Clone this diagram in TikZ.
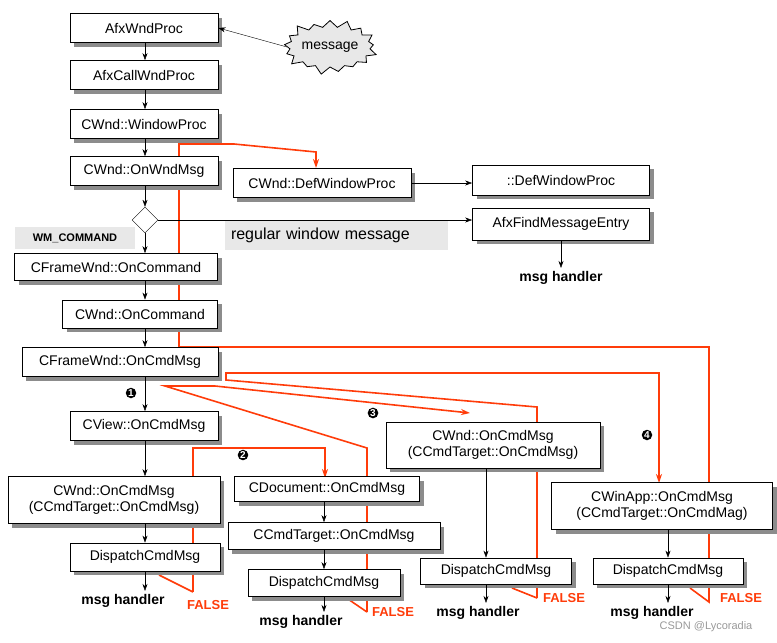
\documentclass[tikz,border=0pt]{standalone}
\usepackage{fontspec}
\setmainfont{Liberation Sans}
\usetikzlibrary{shapes.geometric,shapes.symbols,arrows.meta,shadows}
\definecolor{rd}{RGB}{255,60,10}
\definecolor{lg}{RGB}{232,232,232}
\begin{document}
\begin{tikzpicture}[x=1pt,y=-1pt,
  bx/.style={draw,thick,fill=white,inner sep=0pt,font=\fontsize{14}{16}\selectfont,
    drop shadow={shadow xshift=4pt,shadow yshift=-4pt,fill=black!45,opacity=1}},
  mh/.style={font=\bfseries\fontsize{14}{16}\selectfont},
  fl/.style={font=\bfseries\fontsize{13}{15}\selectfont,text=rd},
  num/.style={circle,fill=black,text=white,inner sep=0.6pt,font=\bfseries\fontsize{10}{10}\selectfont},
  ar/.style={-{Stealth[length=7pt,width=5pt]}},
  red/.style={draw=rd,line width=1.6pt},
  rar/.style={red,-{Stealth[length=9pt,width=6pt]}}]
\useasboundingbox (0,0) rectangle (777,643);
% red paths (under boxes)
\draw[rar] (709,590) -- (709,347) -- (179,347) -- (179,144) -- (234,144) -- (316,152) -- (316,168);
\draw[red] (690,588) -- (709,602) -- (709,588);
\draw[rar] (537,598) -- (537,407) -- (226,380) -- (226,373) -- (659,373) -- (659,483);
\draw[red] (512,588) -- (537,598);
\draw[rar] (367,612) -- (367,448) -- (165,386) -- (215,386) -- (470,413);
\draw[red] (345,597) -- (367,612);
\draw[rar] (193,592) -- (193,448) -- (325,448) -- (325,478);
\draw[red] (159,575) -- (193,592);
% gray labels
\node[fill=lg,minimum width=120pt,minimum height=22pt,font=\bfseries\fontsize{11}{13}\selectfont] (wmc) at (75,238) {WM\_COMMAND};
\node[fill=lg,minimum width=223pt,minimum height=30pt,font=\fontsize{16}{18}\selectfont,text width=210pt] (rwm) at (336,235) {regular window message};
% boxes
\node[bx,minimum width=148pt,minimum height=29pt] (afx) at (144,28) {AfxWndProc};
\node[starburst,draw,thick,fill=lg,starburst points=17,starburst point height=9pt,minimum width=90pt,minimum height=58pt,inner sep=0pt,font=\fontsize{14}{16}\selectfont] (msg) at (330,47) {message};
\node[bx,minimum width=148pt,minimum height=29pt] (call) at (144,75) {AfxCallWndProc};
\node[bx,minimum width=148pt,minimum height=29pt] (wp) at (144,124) {CWnd::WindowProc};
\node[bx,minimum width=148pt,minimum height=29pt] (owm) at (144,171) {CWnd::OnWndMsg};
\node[bx,minimum width=178pt,minimum height=29pt] (dwp) at (322,183) {CWnd::DefWindowProc};
\node[bx,minimum width=177pt,minimum height=30pt] (gdwp) at (561,180) {::DefWindowProc};
\node[diamond,draw,fill=white,minimum width=26pt,minimum height=26pt,inner sep=0pt] (dm) at (145,220) {};
\node[bx,minimum width=177pt,minimum height=32pt] (fme) at (561,224) {AfxFindMessageEntry};
\node[mh] (mh0) at (561,278) {msg handler};
\node[bx,minimum width=203pt,minimum height=27pt] (foc) at (116,267) {CFrameWnd::OnCommand};
\node[bx,minimum width=155pt,minimum height=28pt] (woc) at (140,314) {CWnd::OnCommand};
\node[bx,minimum width=196pt,minimum height=29pt] (fcm) at (120,362) {CFrameWnd::OnCmdMsg};
\node[bx,minimum width=148pt,minimum height=29pt] (vcm) at (144,426) {CView::OnCmdMsg};
\node[bx,minimum width=212pt,minimum height=47pt,align=center] (w1) at (114,500) {CWnd::OnCmdMsg\\(CCmdTarget::OnCmdMsg)};
\node[bx,minimum width=150pt,minimum height=28pt] (d1) at (145,557) {DispatchCmdMsg};
\node[mh] (h1) at (123,601) {msg handler};
\node[fl] (f1) at (208,605) {FALSE};
\node[bx,minimum width=185pt,minimum height=25pt] (doc) at (327,489) {CDocument::OnCmdMsg};
\node[bx,minimum width=212pt,minimum height=27pt] (ct) at (334,536) {CCmdTarget::OnCmdMsg};
\node[bx,minimum width=152pt,minimum height=27pt] (d2) at (324,583) {DispatchCmdMsg};
\node[mh] (h2) at (301,622) {msg handler};
\node[fl] (f2) at (393,612) {FALSE};
\node[bx,minimum width=214pt,minimum height=46pt,align=center] (w3) at (493,445) {CWnd::OnCmdMsg\\(CCmdTarget::OnCmdMsg)};
\node[bx,minimum width=151pt,minimum height=26pt] (d3) at (496,571) {DispatchCmdMsg};
\node[mh] (h3) at (478,613) {msg handler};
\node[fl] (f3) at (564,598) {FALSE};
\node[bx,minimum width=221pt,minimum height=47pt,align=center] (app) at (662,506) {CWinApp::OnCmdMsg\\(CCmdTarget::OnCmdMag)};
\node[bx,minimum width=150pt,minimum height=26pt] (d4) at (668,571) {DispatchCmdMsg};
\node[mh] (h4) at (652,613) {msg handler};
\node[fl] (f4) at (741,598) {FALSE};
\node[num] (n1) at (131,393) {1};
\node[num] (n2) at (243,455) {2};
\node[num] (n3) at (373,413) {3};
\node[num] (n4) at (647,435) {4};
\node[text=black!40,font=\fontsize{11}{13}\selectfont] (wm) at (706,627) {CSDN @Lycoradia};
% black connectors
\draw[ar] (msg.west) -- (afx.east);
\draw[ar] (afx.south -| dm) -- (call.north -| dm);
\draw[ar] (call.south -| dm) -- (wp.north -| dm);
\draw[ar] (wp.south -| dm) -- (owm.north -| dm);
\draw[ar] (owm.south -| dm) -- (dm.north);
\draw[ar] (dm.south) -- (foc.north -| dm);
\draw[ar] (dm.east) -- (fme.west |- dm);
\draw[ar] (dwp.east) -- (gdwp.west |- dwp);
\draw[ar] (fme) -- (mh0);
\draw[ar] (foc.south -| dm) -- (woc.north -| dm);
\draw[ar] (woc.south -| dm) -- (fcm.north -| dm);
\draw[ar] (fcm.south -| dm) -- (vcm.north -| dm);
\draw[ar] (vcm.south -| dm) -- (w1.north -| dm);
\draw[ar] (w1.south -| dm) -- (d1.north -| dm);
\draw[ar] (d1.south -| dm) -- (h1.north -| dm);
\draw[ar] (doc.south -| d2) -- (ct.north -| d2);
\draw[ar] (ct.south -| d2) -- (d2.north);
\draw[ar] (d2.south) -- (h2.north -| d2);
\draw[ar] (w3.south -| 486,0) -- (d3.north -| 486,0);
\draw[ar] (d3.south -| 486,0) -- (h3.north -| 486,0);
\draw[ar] (app.south -| d4) -- (d4.north);
\draw[ar] (d4.south) -- (h4.north -| d4);
\end{tikzpicture}
\end{document}
